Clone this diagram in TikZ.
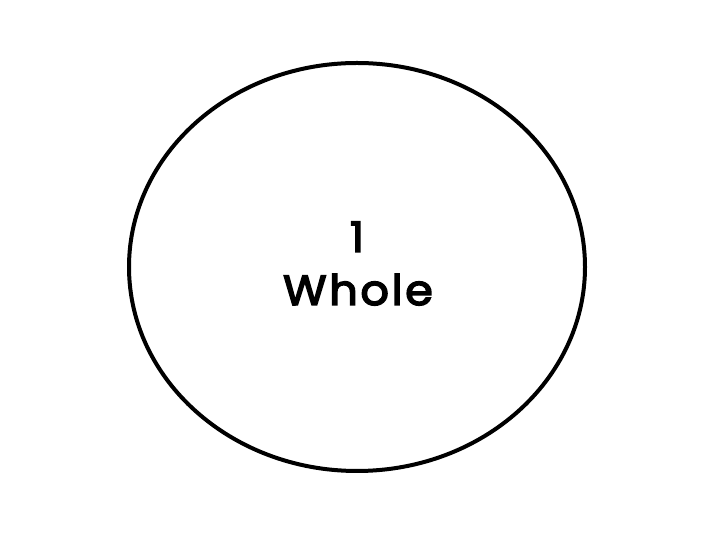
\documentclass[tikz,border=0pt]{standalone}
\usepackage{fontspec}
\setmainfont{Poppins}
\newfontfamily\wfont{Poppins}[LetterSpace=6,FakeBold=3.5]
\begin{document}
\begin{tikzpicture}[x=1pt,y=1pt,
  label/.style={font=\fontsize{42}{53}\wfont,align=center,text=black,xscale=1.06,transform shape}]
\useasboundingbox (0,0) rectangle (720,540);
\draw[line width=4pt] (357,273) ellipse [x radius=228, y radius=204];
\node[label,anchor=base] (one) at (357,288) {1};
\node[label,anchor=base] (whole) at (358,235) {Whole};
\end{tikzpicture}
\end{document}
